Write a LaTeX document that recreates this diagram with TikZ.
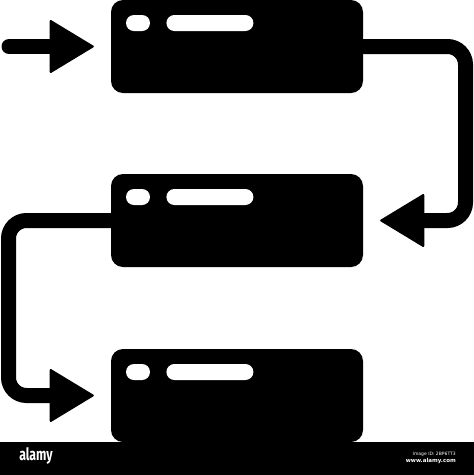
\documentclass[tikz,border=0pt]{standalone}
\usepackage{fontspec}
\newfontfamily\logofont{Fira Sans}
\newfontfamily\infofont{DejaVu Sans}
\usepackage{tikz}
\usetikzlibrary{shapes, arrows.meta, positioning}
\tikzstyle{box} = [rectangle, fill=black, rounded corners=12pt, minimum width=252pt, minimum height=93pt, inner sep=0pt]
\tikzstyle{pill} = [rectangle, fill=white, rounded corners=8pt, minimum height=16pt, inner sep=0pt]
\tikzstyle{flow} = [draw, line width=15pt, rounded corners=18pt, -{Triangle[length=45pt, width=54pt, line width=2pt, round]}, shorten >=17pt]
\tikzstyle{bar} = [rectangle, fill=black, minimum width=474pt, minimum height=33pt, inner sep=0pt]

\begin{document}
\begin{tikzpicture}[x=1pt, y=-1pt]
			\useasboundingbox (0,0) rectangle (474,475);
			\node [box] (b1) at (237, 46.5) {};
			\node [box] (b2) at (237, 220.5) {};
			\node [box] (b3) at (237, 395.5) {};
			
			\node [pill, minimum width=24pt, below right=15pt and 15pt of b1.north west] (s1) {};
			\node [pill, minimum width=87pt, right=16pt of s1] (p1) {};
			\node [pill, minimum width=24pt, below right=15pt and 15pt of b2.north west] (s2) {};
			\node [pill, minimum width=87pt, right=16pt of s2] (p2) {};
			\node [pill, minimum width=24pt, below right=15pt and 15pt of b3.north west] (s3) {};
			\node [pill, minimum width=87pt, right=16pt of s3] (p3) {};
			
			\coordinate (in) at (9, 46.5);
			\coordinate (rt) at (465.5, 46.5);
			\coordinate (rb) at (465.5, 220.5);
			\coordinate (lt) at (8.5, 220.5);
			\coordinate (lb) at (8.5, 395.5);
			
			\path [flow, line cap=round] (in) -- (b1.west);
			\path [flow] (b1.east) -- (rt) -- (rb) -- (b2.east);
			\path [flow] (b2.west) -- (lt) -- (lb) -- (b3.west);
			
			\node [bar] (bar) at (237, 458.5) {};
			\node [text=white, font=\logofont\bfseries\fontsize{17}{17}\selectfont, xscale=0.72] (logo) at (36, 456) {alamy};
			\node [text=white, anchor=east, align=right, inner sep=0pt, font=\infofont\fontsize{4.5}{7}\selectfont] (info) at (456, 458) {Image ID: 2BP6TT3\\ {\bfseries\fontsize{5.5}{7}\selectfont www.alamy.com}};
		\end{tikzpicture}
\end{document}
